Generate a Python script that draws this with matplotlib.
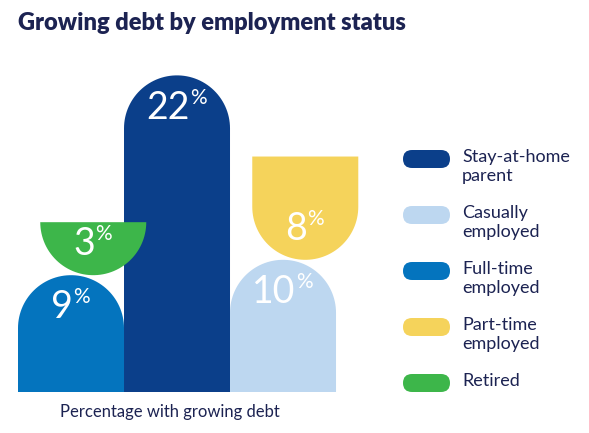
import matplotlib
matplotlib.use("Agg")

import numpy as np
import matplotlib.pyplot as plt
from matplotlib.patches import Polygon, FancyBboxPatch

# data
categories = ["Stay-at-home parent", "Casually employed", "Full-time employed",
              "Part-time employed", "Retired"]
legend_labels = ["Stay-at-home\nparent", "Casually\nemployed", "Full-time\nemployed",
                 "Part-time\nemployed", "Retired"]
values = [22, 10, 9, 8, 3]
colors = ["#0b3f8a", "#bdd7f0", "#0474be", "#f5d35b", "#3db64a"]

# layout: bars standing on the baseline, caps sitting on top of a bar
bar_order = ["Full-time employed", "Stay-at-home parent", "Casually employed"]
cap_on = {"Retired": "Full-time employed", "Part-time employed": "Casually employed"}
cap_scale = 0.84   # the caps are drawn a bit shorter than the bars in the original

NAVY = "#1c2352"
W, H = 589, 433
fig = plt.figure(figsize=(W / 100, H / 100), dpi=100)
fig.patch.set_facecolor("white")

# overlay axes in pixel units for title / legend
ov = fig.add_axes([0, 0, 1, 1])
ov.set_xlim(0, W)
ov.set_ylim(H, 0)
ov.axis("off")

# chart axes
left_px, right_px, base_px, top_px = 18, 360.4, 392, 60
ax = fig.add_axes([left_px / W, (H - base_px) / H, (right_px - left_px) / W, (base_px - top_px) / H])
ymin, ymax = 1.4, 23.0
ax.set_xlim(-0.5, 2.73)
ax.set_ylim(ymin, ymax)
ax.axis("off")

py = (base_px - top_px) / (ymax - ymin)   # pixels per % unit
ry = 53 / py                               # half-width radius in y units
t = np.linspace(0, np.pi, 60)


def round_top(cx, y0, y1, color, z):
    pts = [(cx - 0.5, y0), (cx - 0.5, y1 - ry)]
    pts += list(zip(cx - 0.5 * np.cos(t), y1 - ry + ry * np.sin(t)))
    pts += [(cx + 0.5, y1 - ry), (cx + 0.5, y0)]
    ax.add_patch(Polygon(pts, closed=True, facecolor=color, edgecolor="none", zorder=z))


def round_bottom(cx, y0, y1, color, z):
    pts = [(cx - 0.5, y1), (cx + 0.5, y1), (cx + 0.5, y0 + ry)]
    pts += list(zip(cx + 0.5 * np.cos(t), y0 + ry - ry * np.sin(t)))
    pts += [(cx - 0.5, y0 + ry)]
    ax.add_patch(Polygon(pts, closed=True, facecolor=color, edgecolor="none", zorder=z))


def pct_label(x, y, v):
    num = ax.text(x - 0.085, y, str(v), ha="center", va="center", color="white",
                  fontsize=27, family="Lato", zorder=5)
    ax.annotate("%", xy=(1.0, 1.0), xycoords=num, xytext=(0.3, 1.5),
                textcoords="offset points", ha="left", va="top", color="white",
                fontsize=15, family="Lato", zorder=5)


pos = {}
for i, name in enumerate(bar_order):
    k = categories.index(name)
    pos[name] = i
    round_top(i, 0, values[k], colors[k], 2)
    pct_label(i, values[k] - 2.1, values[k])

for name, under in cap_on.items():
    k = categories.index(name)
    base = values[categories.index(under)]
    cx = pos[under] + 0.21
    top = base + max(values[k] * cap_scale, ry)
    round_bottom(cx, base, top, colors[k], 3)
    pct_label(cx, base + 2.0, values[k])

# title and axis caption
ov.text(18, 23, "Growing debt by employment status", ha="left", va="center",
        fontsize=17, weight="heavy", family="Lato", color=NAVY)
ov.text(170, 412, "Percentage with growing debt", ha="center", va="center",
        fontsize=12, family="Lato", color=NAVY)

# legend
for i, (lab, c) in enumerate(zip(legend_labels, colors)):
    yc = 159 + i * 56
    ov.add_patch(FancyBboxPatch((403, yc - 9), 47, 18, boxstyle="round,pad=0,rounding_size=9",
                                facecolor=c, edgecolor="none"))
    ov.text(462, yc - 10, lab, ha="left", va="top", fontsize=13, family="Lato",
            color=NAVY, linespacing=1.2)

fig.savefig("out.png", dpi=100, facecolor="white")
